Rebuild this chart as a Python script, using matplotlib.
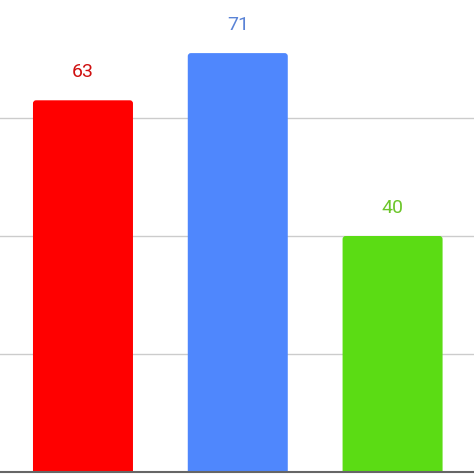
import matplotlib
matplotlib.use("Agg")
import matplotlib.pyplot as plt
from matplotlib.patches import FancyBboxPatch

plt.rcParams['font.family'] = ['Roboto', 'DejaVu Sans']

categories = ['A', 'B', 'C']
values = [63, 71, 40]
bar_colors = ['#ff0000', '#4f87fd', '#5bdc14']
label_colors = ['#cf1010', '#5a83d6', '#6cc62a']
grid_vals = [20, 40, 60]

fig = plt.figure(figsize=(4.74, 4.74), dpi=100)
ax = fig.add_axes([0, 2 / 474, 1, 472 / 474])

xs = list(range(len(categories)))
bars = ax.bar(xs, values, width=0.646, color=bar_colors, zorder=2)

# swap plain rectangles for slightly rounded ones
aspect = (1 / 5.89) / (1 / 154.8)
for b, c in zip(bars, bar_colors):
    b.set_visible(False)
    p = FancyBboxPatch((b.get_x(), -2), b.get_width(), b.get_height() + 2,
                       boxstyle="round,pad=0,rounding_size=0.02",
                       mutation_aspect=aspect, facecolor=c, edgecolor='none',
                       zorder=2, clip_on=True)
    ax.add_patch(p)

for x, v, lc in zip(xs, values, label_colors):
    ax.annotate(str(v), (x, v), xytext=(0, 20.5), textcoords='offset points',
                ha='center', va='center', fontsize=14, color=lc)

for g in grid_vals:
    ax.axhline(g, color='#cccccc', lw=1.0, zorder=1)

ax.set_xlim(-0.536, 2.526)
ax.set_ylim(0, 80)
for s in ['top', 'left', 'right']:
    ax.spines[s].set_visible(False)
ax.spines['bottom'].set_color('#666666')
ax.spines['bottom'].set_linewidth(1.5)
ax.spines['bottom'].set_zorder(3)
ax.set_xticks([])
ax.set_yticks([])

fig.savefig('out.png', dpi=100)
